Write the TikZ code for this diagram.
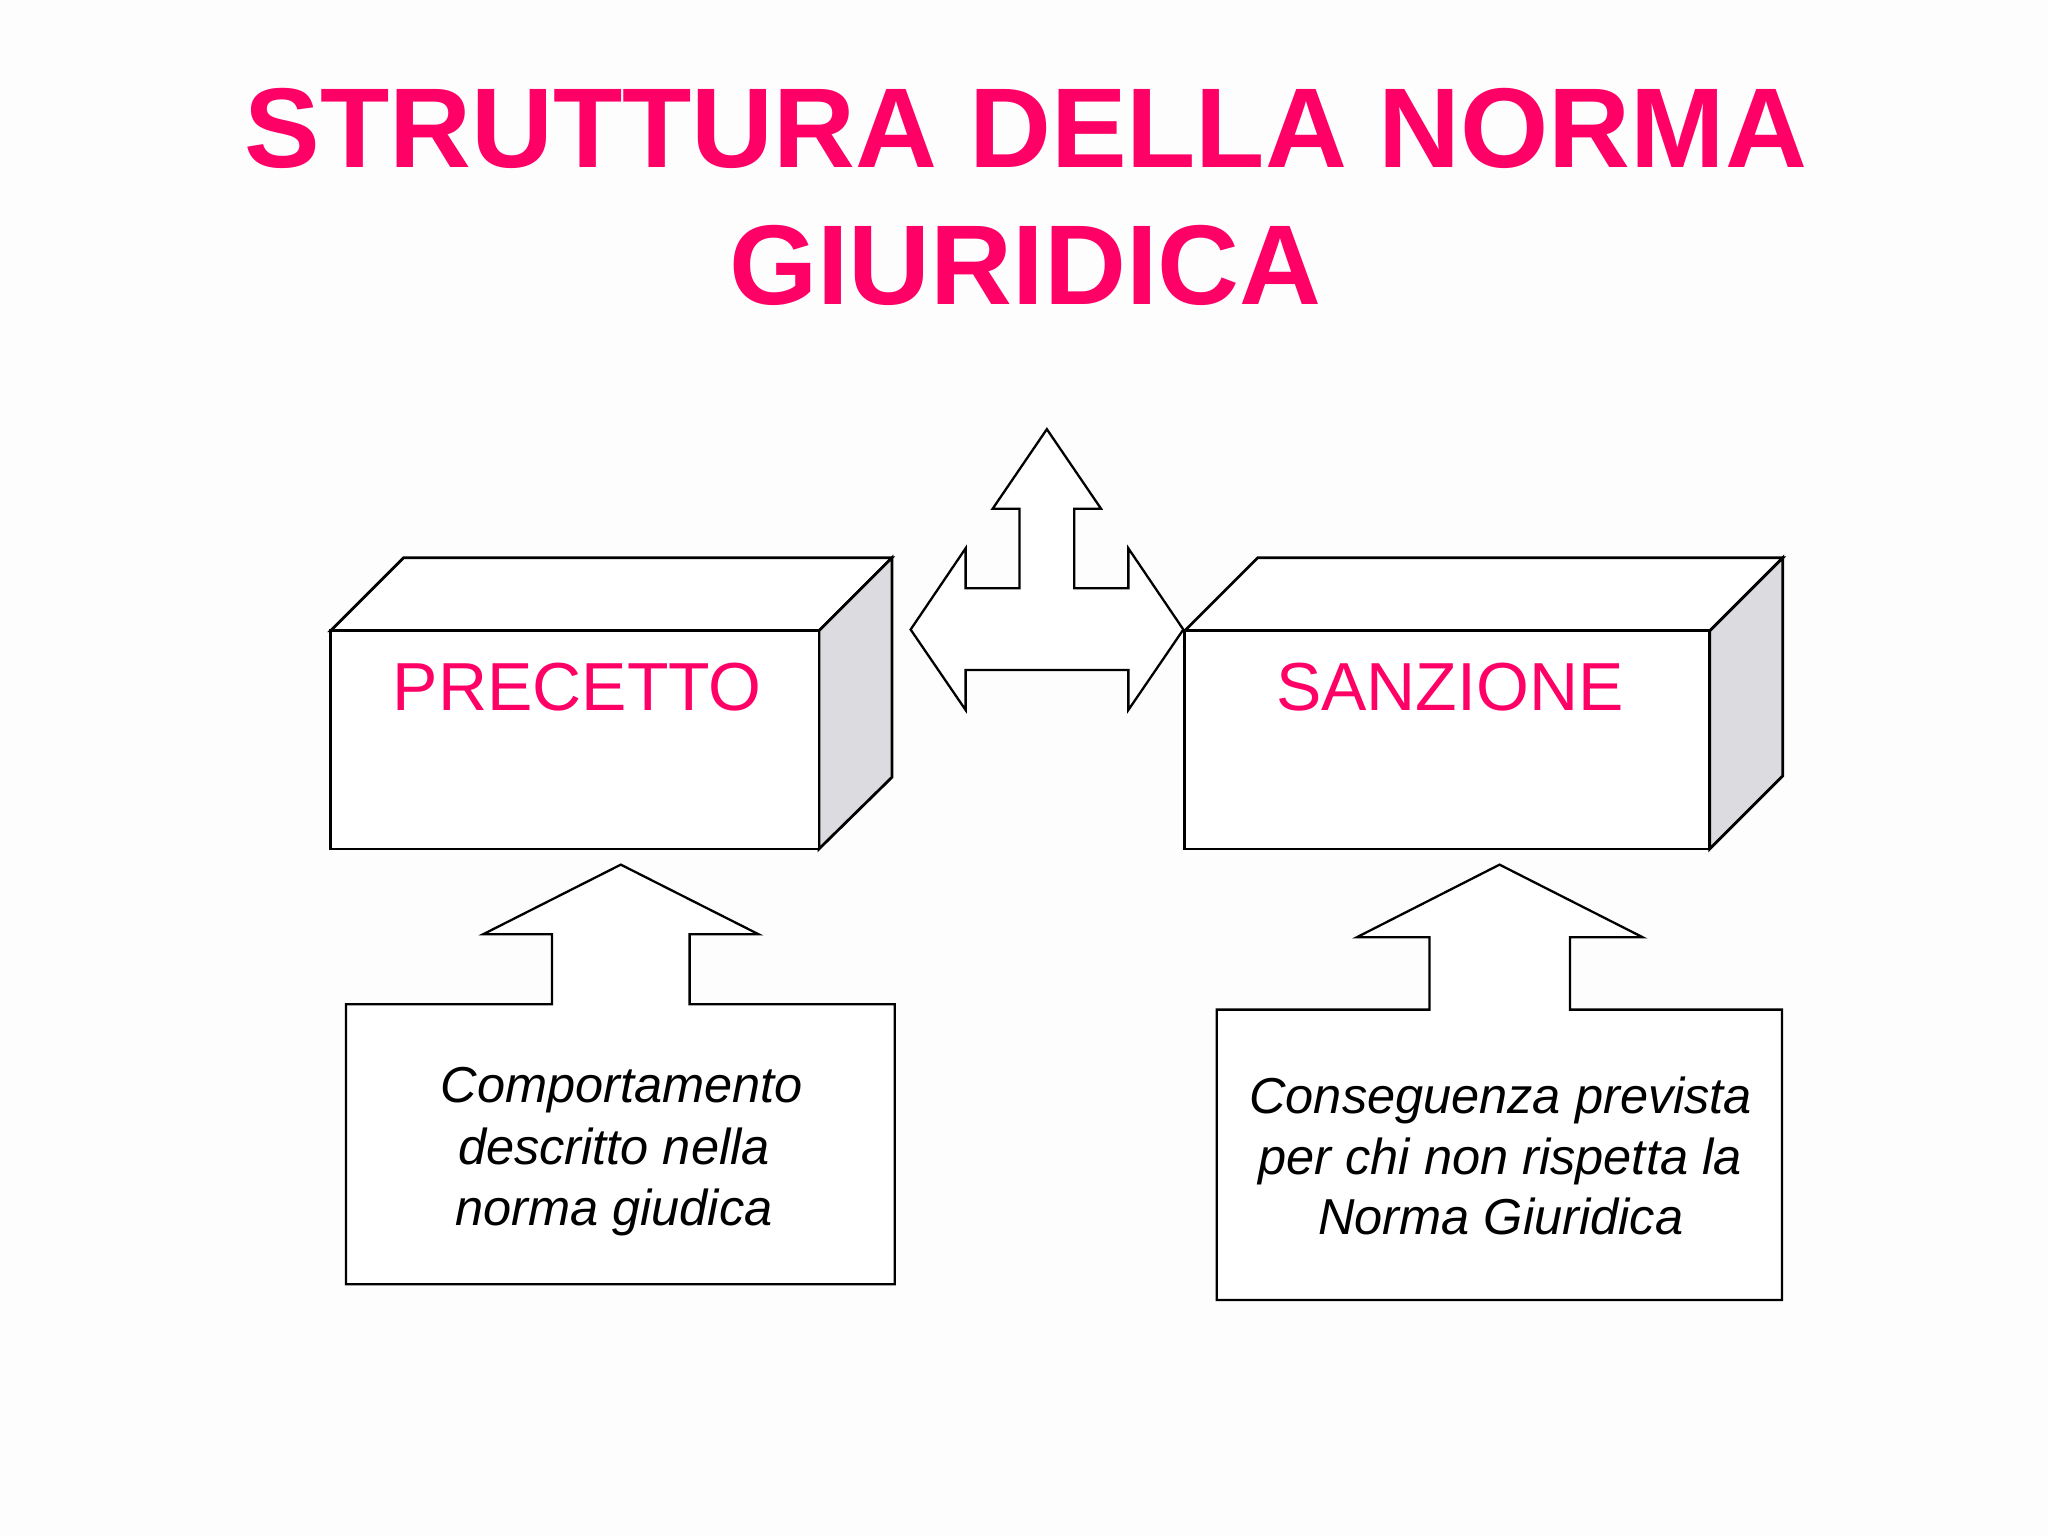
\documentclass[tikz,border=0pt]{standalone}
\usepackage{fontspec}
\setmainfont{Liberation Sans}
\definecolor{pinkx}{RGB}{255,0,102}
\definecolor{sidegray}{RGB}{220,219,224}
\definecolor{bgc}{RGB}{253,253,253}
\begin{document}
\begin{tikzpicture}[x=0.01cm,y=-0.01cm,
  outline/.style={draw=black,line width=0.6pt,line join=miter},
  thinline/.style={draw=black,line width=0.5pt,line join=miter},
  titletext/.style={font=\fontsize{24.7}{29}\selectfont\bfseries,text=pinkx,inner sep=0pt,anchor=base},
  boxlabel/.style={font=\fontsize{14.8}{17}\selectfont,text=pinkx,inner sep=0pt,anchor=base},
  bodytext/.style={font=\fontsize{11}{13}\selectfont\itshape,text=black,inner sep=0pt,anchor=base}]
\fill[bgc] (0,0) rectangle (1568,1176);
\useasboundingbox (0,0) rectangle (1568,1176);
% title
\node[titletext] (t1) at (785.5,128) {STRUTTURA DELLA NORMA};
\node[titletext] (t2) at (785,233) {GIURIDICA};
% box PRECETTO
\filldraw[outline,fill=white] (253,483) -- (309,427) -- (683,427) -- (627,483) -- cycle;
\filldraw[outline,fill=sidegray] (627,483) -- (683,427) -- (683,595) -- (627,650) -- cycle;
\filldraw[outline,fill=white] (253,483) rectangle (627,650);
\node[boxlabel] (prec) at (442,544) {PRECETTO};
% box SANZIONE
\filldraw[outline,fill=white] (907,483) -- (963,427) -- (1365,427) -- (1309,483) -- cycle;
\filldraw[outline,fill=sidegray] (1309,483) -- (1365,427) -- (1365,594) -- (1309,650) -- cycle;
\filldraw[outline,fill=white] (907,483) rectangle (1309,650);
\node[boxlabel] (sanz) at (1110,544) {SANZIONE};
% three-way arrow
\filldraw[thinline,fill=white] (801.5,328.6) -- (760,389.5) -- (780.5,389.5) -- (780.5,450.4) -- (739.3,450.4) -- (739.3,419.8) -- (697.2,482) -- (739.3,543.6) -- (739.3,513) -- (863.9,513) -- (863.9,543.6) -- (906,482) -- (863.9,419.8) -- (863.9,450.4) -- (822.5,450.4) -- (822.5,389.5) -- (843,389.5) -- cycle;
% left callout
\filldraw[thinline,fill=white] (475.3,662) -- (580.8,715.3) -- (528,715.3) -- (528,768.9) -- (685.1,768.9) -- (685.1,983.3) -- (264.9,983.3) -- (264.9,768.9) -- (422.6,768.9) -- (422.6,715.3) -- (369.9,715.3) -- cycle;
\node[bodytext] (l1) at (476,844) {Comportamento};
\node[bodytext] (l2) at (470,891.4) {descritto nella};
\node[bodytext] (l3) at (470,938) {norma giudica};
% right callout
\filldraw[thinline,fill=white] (1148.1,662) -- (1257.7,717.6) -- (1202,717.6) -- (1202,773) -- (1364.3,773) -- (1364.3,995.3) -- (931.6,995.3) -- (931.6,773) -- (1094.5,773) -- (1094.5,717.6) -- (1038.8,717.6) -- cycle;
\node[bodytext] (r1) at (1149,852.4) {Conseguenza prevista};
\node[bodytext] (r2) at (1148.5,899) {per chi non rispetta la};
\node[bodytext] (r3) at (1149,945.5) {Norma Giuridica};
\end{tikzpicture}
\end{document}
